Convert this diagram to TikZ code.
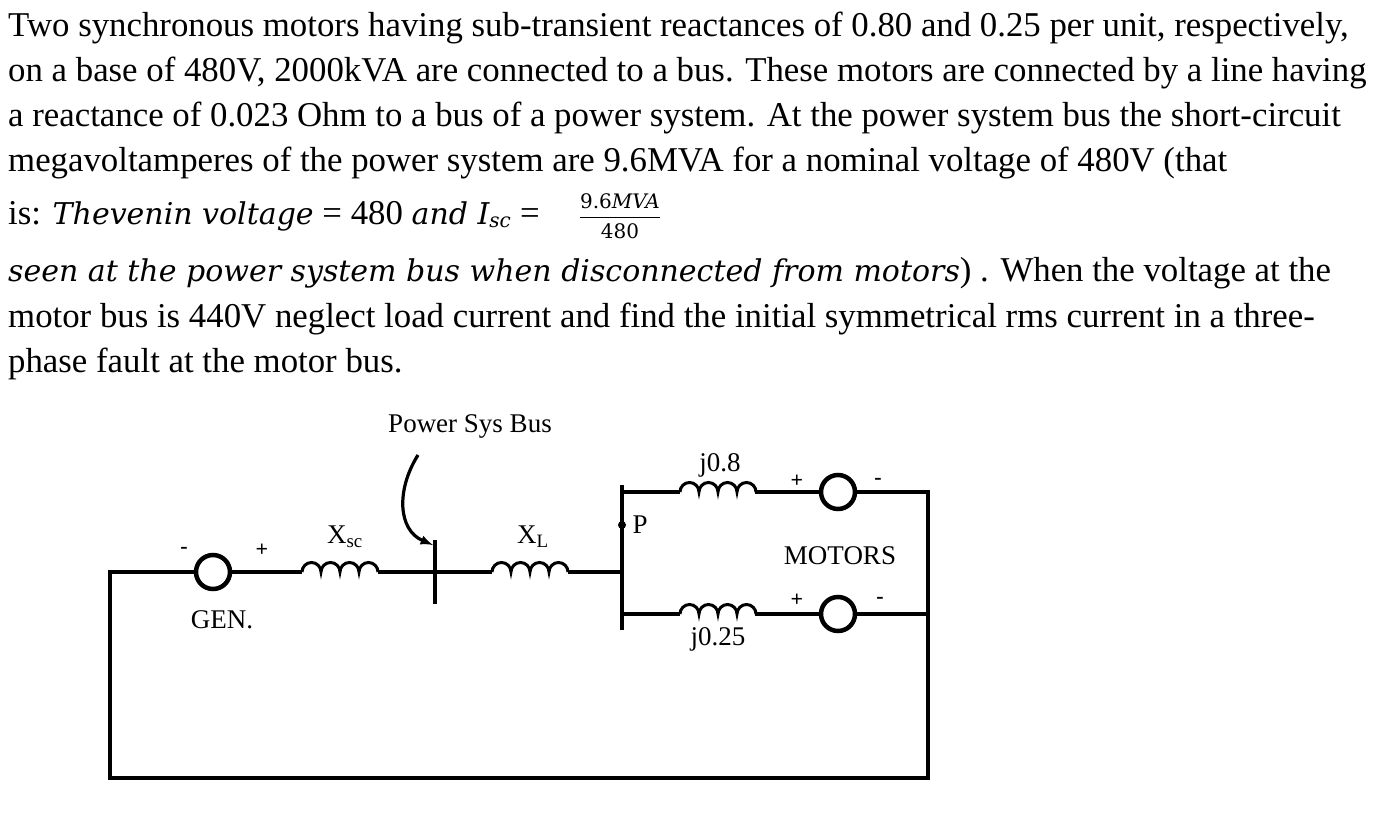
\documentclass[tikz,border=0pt]{standalone}
\usepackage{fontspec}
\setmainfont{Liberation Serif}
\newfontfamily\eqfont{DejaVu Serif}
\usetikzlibrary{positioning}
\newcommand{\eqit}[1]{{\eqfont\fontsize{30}{34}\selectfont\itshape #1}}
\tikzset{
  line/.style={line width=3.2pt},
  para/.style={anchor=west,inner sep=0pt,font=\fontsize{34.8}{40}\selectfont},
  lbl/.style={inner sep=0pt,font=\fontsize{27}{30}\selectfont},
  sgn/.style={inner sep=0pt,font=\fontsize{22}{24}\selectfont\bfseries},
  src/.style={circle,draw,line width=4.5pt,minimum size=34pt,inner sep=0pt},
  coil/.pic={\draw[line width=3pt] (0,0) \foreach \k in {1,...,4}{ arc[start angle=180,end angle=0,radius=9.5pt] };}
}
\begin{document}
\begin{tikzpicture}[x=1pt,y=-1pt]
\useasboundingbox (0,0) rectangle (1386,830);
% problem text
\node[para] (l1) at (8,28) {Two synchronous motors having sub-transient reactances of 0.80 and 0.25 per unit, respectively,};
\node[para] (l2) at (8,73) {on a base of 480V, 2000kVA are connected to a bus. These motors are connected by a line having};
\node[para] (l3) at (8,118) {a reactance of 0.023 Ohm to a bus of a power system. At the power system bus the short-circuit};
\node[para] (l4) at (8,163) {megavoltamperes of the power system are 9.6MVA for a nominal voltage of 480V (that};
\node[para] (l5) at (8,216) {is: \eqit{Thevenin voltage} = 480 \eqit{and I$_{\mbox{\eqfont\fontsize{20}{22}\selectfont\itshape sc}}$} =};
\node[inner sep=0pt,font=\eqfont\fontsize{20}{22}\selectfont] (frac) at (620,216) {$\displaystyle\frac{\mbox{9.6\itshape MVA}\rule[-6pt]{0pt}{0pt}}{\rule{0pt}{20pt}\mbox{480}}$};
\node[para] (l6) at (8,273) {\eqit{seen at the power system bus when disconnected from motors}) . When the voltage at the};
\node[para] (l7) at (8,319) {motor bus is 440V neglect load current and find the initial symmetrical rms current in a three-};
\node[para] (l8) at (8,364) {phase fault at the motor bus.};
% circuit
\node[src] (gen) at (213,572) {};
\node[src] (m1) at (838,492) {};
\node[src] (m2) at (838,614) {};
\coordinate (a) at (110,572);
\coordinate (b) at (110,778);
\coordinate (c) at (928,778);
\coordinate (d) at (928,492);
\coordinate (e) at (928,614);
\pic at (302,572) {coil};
\pic at (492,572) {coil};
\pic at (680,492) {coil};
\pic at (680,614) {coil};
\draw[line] (gen.west) -- (a) -- (b) -- (c) -- (d) -- (m1.east);
\draw[line] (e) -- (m2.east);
\draw[line] (gen.east) -- (302,572);
\draw[line] (378,572) -- (492,572);
\draw[line] (568,572) -- (622,572);
\draw[line] (622,492) -- (680,492) (755,492) -- (m1.west);
\draw[line] (622,614) -- (680,614) (755,614) -- (m2.west);
\draw[line] (622,485) -- (622,630);
\draw[line] (435,540) -- (435,604);
\fill (622,525) circle (4pt);
% labels
\node[lbl] (bus) at (470,426) {Power Sys Bus};
\draw[line,-latex] (418,455) .. controls (396,490) and (398,530) .. (433,545);
\node[lbl] (xsc) at (345,537) {X$_{\mathrm{sc}}$};
\node[lbl] (xl) at (533,537) {X$_{\mathrm{L}}$};
\node[lbl] (p) at (640,525) {P};
\node[lbl] (j1) at (720,465) {j0.8};
\node[lbl] (j2) at (718,639) {j0.25};
\node[lbl] (mot) at (840,556) {MOTORS};
\node[lbl] (gl) at (222,620) {GEN.};
\node[sgn] at (184,550) {-};
\node[sgn] at (262,550) {+};
\node[sgn] at (797,481) {+};
\node[sgn] at (878,481) {-};
\node[sgn] at (797,600) {+};
\node[sgn] at (880,600) {-};
\end{tikzpicture}
\end{document}
